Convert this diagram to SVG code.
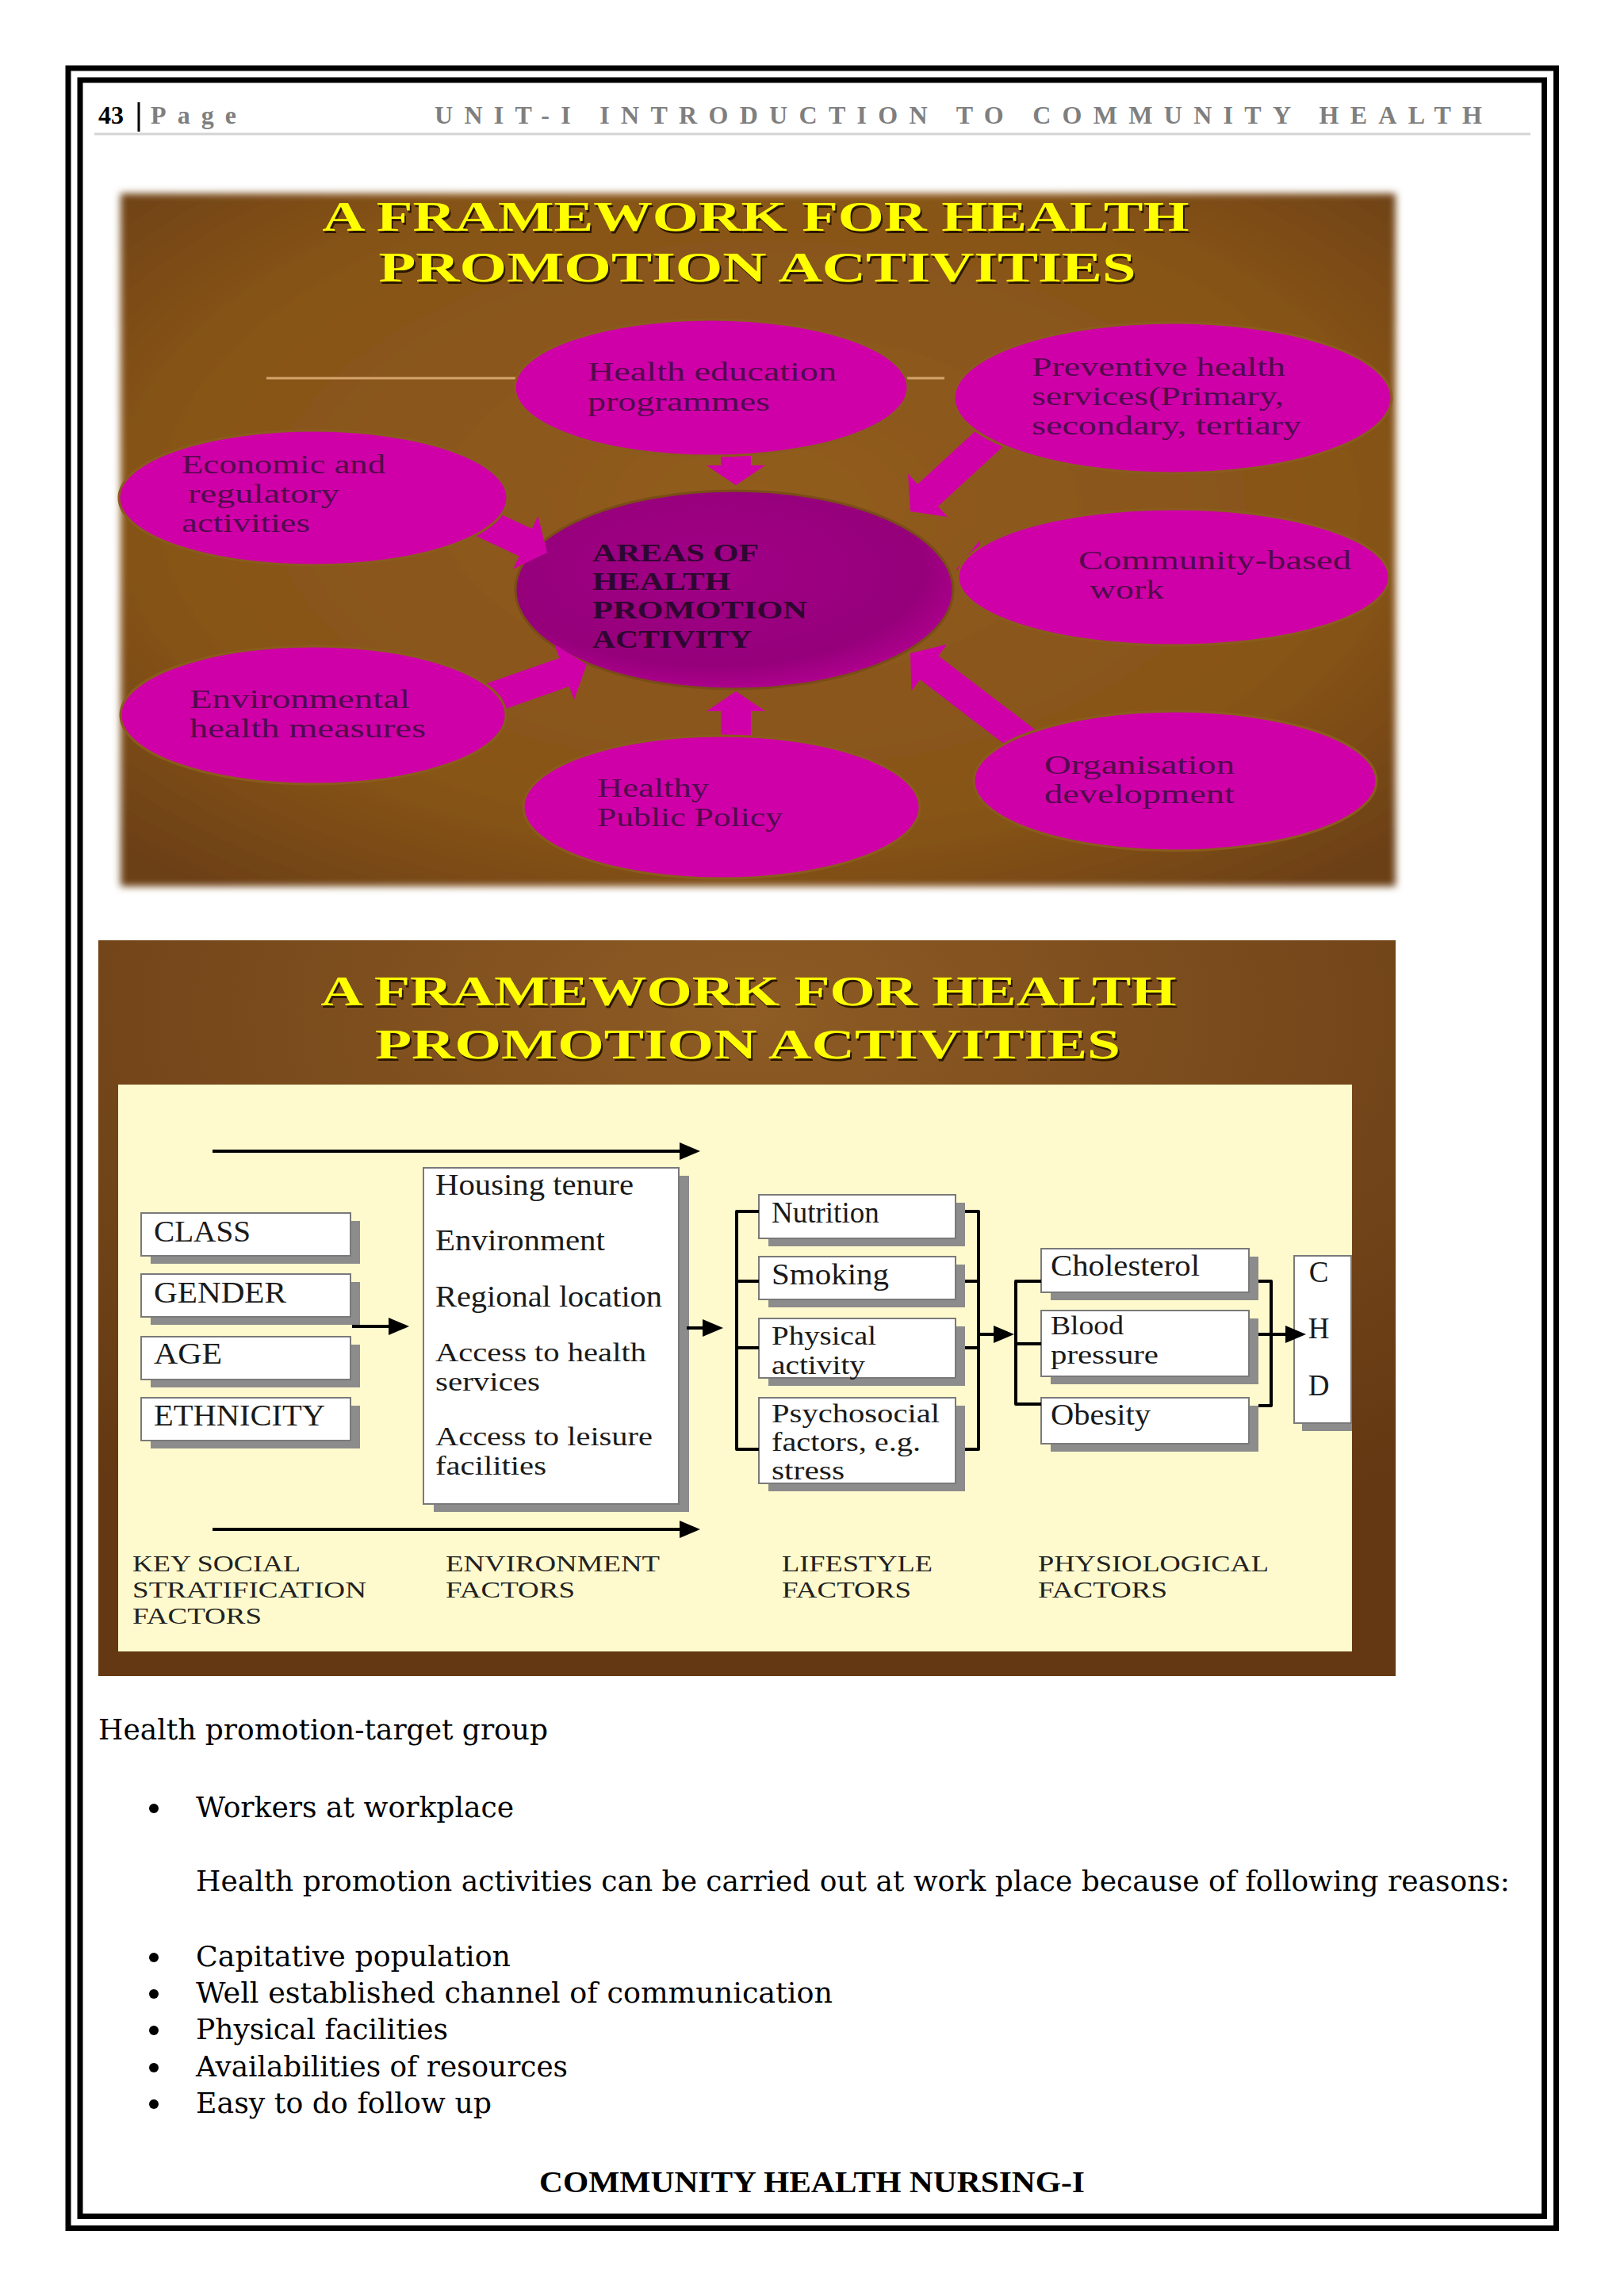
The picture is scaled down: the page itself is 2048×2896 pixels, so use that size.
<svg xmlns="http://www.w3.org/2000/svg" width="2048" height="2896" viewBox="0 0 2048 2896">
<style>
.hdr{font-family:"Liberation Serif",serif;font-weight:bold;font-size:32px}
.gray{fill:#7f7f7f}
.t1{font-family:"Liberation Serif",serif;font-weight:bold;fill:#ffff00;font-size:53px}
.t1s{font-family:"Liberation Serif",serif;font-weight:bold;fill:#2a1800;font-size:53px}
.el{fill:#d000a8;stroke:#8a5c1c;stroke-width:3}
.etx{font-family:"Liberation Serif",serif;font-size:34px;fill:#520a4e}
.ctx{font-family:"Liberation Serif",serif;font-weight:bold;font-size:31px;fill:#2e0630}
.barrow{fill:#d000a8}
.box{fill:#ffffff;stroke:#7a7a7a;stroke-width:2}
.shd{fill:#8c8c8c}
.btx{font-family:"Liberation Serif",serif;font-size:37px;fill:#1a1a1a}
.btm{font-family:"Liberation Serif",serif;font-size:33px;fill:#1a1a1a}
.lbl{font-family:"Liberation Serif",serif;font-size:29px;fill:#222}
.ln{fill:none;stroke:#000;stroke-width:4;stroke-linejoin:round}
.body{font-family:"DejaVu Serif",serif;font-size:35px;fill:#000}
.bul{fill:#000}
</style>
<defs>
<radialGradient id="brown1" cx="0.5" cy="0.45" r="0.7">
<stop offset="0" stop-color="#915c1e"/>
<stop offset="0.7" stop-color="#865318"/>
<stop offset="1" stop-color="#6c4012"/>
</radialGradient>
<radialGradient id="brown2" cx="0.5" cy="0.1" r="0.8">
<stop offset="0" stop-color="#8e5c24"/>
<stop offset="0.6" stop-color="#74461a"/>
<stop offset="1" stop-color="#633812"/>
</radialGradient>
<radialGradient id="ctr" cx="0.45" cy="0.4" r="0.6">
<stop offset="0" stop-color="#a10086"/>
<stop offset="0.8" stop-color="#95007a"/>
<stop offset="1" stop-color="#ad008d"/>
</radialGradient>
<filter id="soft" x="-5%" y="-5%" width="110%" height="110%">
<feGaussianBlur stdDeviation="5"/>
</filter>
<path id="barL" d="M0,0 L-30,-37 L-30,-19 L-300,-19 L-300,19 L-30,19 L-30,37 Z"/>
<path id="barS" d="M0,0 L-25,-37 L-25,-19 L-110,-19 L-110,19 L-25,19 L-25,37 Z"/>
<marker id="ah" markerWidth="26" markerHeight="22" refX="18" refY="11" orient="auto" markerUnits="userSpaceOnUse">
<path d="M0,0 L26,11 L0,22 Z" fill="#000"/>
</marker>
</defs>

<rect x="0" y="0" width="2048" height="2896" fill="#ffffff"/>

<g id="page-border">
<rect x="86" y="86" width="1876.5" height="2724.5" fill="none" stroke="#000" stroke-width="7"/>
<rect x="101" y="101" width="1846.5" height="2694.5" fill="none" stroke="#000" stroke-width="7"/>
</g>

<g id="header">
<text x="124" y="156" class="hdr" fill="#000" font-size="34">43</text>
<line x1="175" y1="129" x2="175" y2="166" stroke="#000" stroke-width="3"/>
<text x="190" y="156" class="hdr gray" textLength="108" lengthAdjust="spacing">Page</text>
<text x="548" y="156" class="hdr gray" textLength="1321" lengthAdjust="spacing">UNIT-I INTRODUCTION TO COMMUNITY HEALTH</text>
<line x1="119" y1="169" x2="1930" y2="169" stroke="#d4d4d4" stroke-width="3"/>
</g>

<!-- Slide 1 -->
<g id="slide1">
<rect x="152" y="244" width="1608" height="874" fill="url(#brown1)" filter="url(#soft)"/>
<line x1="336" y1="477" x2="1191" y2="477" stroke="#d4a46c" stroke-width="3"/>
<text x="955" y="294" class="t1s" text-anchor="middle" textLength="1093" lengthAdjust="spacingAndGlyphs">A FRAMEWORK FOR HEALTH</text>
<text x="953" y="291" class="t1" text-anchor="middle" textLength="1093" lengthAdjust="spacingAndGlyphs">A FRAMEWORK FOR HEALTH</text>
<text x="957" y="358" class="t1s" text-anchor="middle" textLength="955" lengthAdjust="spacingAndGlyphs">PROMOTION ACTIVITIES</text>
<text x="955" y="355" class="t1" text-anchor="middle" textLength="955" lengthAdjust="spacingAndGlyphs">PROMOTION ACTIVITIES</text>
</g>

<g id="center-areas">
<ellipse cx="926" cy="744" rx="276" ry="125" fill="url(#ctr)" stroke="#7a4c18" stroke-width="3"/>
<text x="747" y="708" class="ctx" textLength="210" lengthAdjust="spacingAndGlyphs">AREAS OF</text>
<text x="747" y="744" class="ctx" textLength="174" lengthAdjust="spacingAndGlyphs">HEALTH</text>
<text x="747" y="780" class="ctx" textLength="271" lengthAdjust="spacingAndGlyphs">PROMOTION</text>
<text x="747" y="817" class="ctx" textLength="201" lengthAdjust="spacingAndGlyphs">ACTIVITY</text>
</g>

<g id="connectors-slide1">
<use href="#barS" class="barrow" transform="translate(928,612) rotate(90)"/>
<use href="#barS" class="barrow" transform="translate(928,872) rotate(-90)"/>
<use href="#barL" class="barrow" transform="translate(1148,645) rotate(137.4)"/>
<use href="#barL" class="barrow" transform="translate(690,697) rotate(25)"/>
<use href="#barL" class="barrow" transform="translate(1206,718) rotate(180)"/>
<use href="#barL" class="barrow" transform="translate(740,838) rotate(-19.3)"/>
<use href="#barL" class="barrow" transform="translate(1148,824) rotate(-142.6)"/>
</g>

<g id="n-health-education">
<ellipse cx="897" cy="489" rx="248" ry="86" class="el"/>
<text x="741" y="480" class="etx" textLength="314" lengthAdjust="spacingAndGlyphs">Health education</text>
<text x="741" y="518" class="etx" textLength="230" lengthAdjust="spacingAndGlyphs">programmes</text>
</g>
<g id="n-preventive">
<ellipse cx="1479" cy="502" rx="276" ry="95" class="el"/>
<text x="1301" y="474" class="etx" textLength="320" lengthAdjust="spacingAndGlyphs">Preventive health</text>
<text x="1301" y="511" class="etx" textLength="318" lengthAdjust="spacingAndGlyphs">services(Primary,</text>
<text x="1301" y="548" class="etx" textLength="340" lengthAdjust="spacingAndGlyphs">secondary, tertiary</text>
</g>
<g id="n-economic">
<ellipse cx="395" cy="628" rx="245" ry="85" class="el"/>
<text x="229" y="597" class="etx" textLength="257" lengthAdjust="spacingAndGlyphs">Economic and</text>
<text x="237" y="634" class="etx" textLength="191" lengthAdjust="spacingAndGlyphs">regulatory</text>
<text x="229" y="671" class="etx" textLength="162" lengthAdjust="spacingAndGlyphs">activities</text>
</g>
<g id="n-community">
<ellipse cx="1480" cy="728" rx="272" ry="86" class="el"/>
<text x="1360" y="718" class="etx" textLength="344" lengthAdjust="spacingAndGlyphs">Community-based</text>
<text x="1374" y="755" class="etx" textLength="94" lengthAdjust="spacingAndGlyphs">work</text>
</g>
<g id="n-environmental">
<ellipse cx="395" cy="902" rx="243" ry="87" class="el"/>
<text x="239" y="893" class="etx" textLength="278" lengthAdjust="spacingAndGlyphs">Environmental</text>
<text x="239" y="930" class="etx" textLength="298" lengthAdjust="spacingAndGlyphs">health measures</text>
</g>
<g id="n-healthy-public-policy">
<ellipse cx="910" cy="1018" rx="250" ry="90" class="el"/>
<text x="753" y="1005" class="etx" textLength="141" lengthAdjust="spacingAndGlyphs">Healthy</text>
<text x="753" y="1042" class="etx" textLength="234" lengthAdjust="spacingAndGlyphs">Public Policy</text>
</g>
<g id="n-organisation">
<ellipse cx="1482" cy="985" rx="254" ry="88" class="el"/>
<text x="1317" y="976" class="etx" textLength="240" lengthAdjust="spacingAndGlyphs">Organisation</text>
<text x="1317" y="1013" class="etx" textLength="240" lengthAdjust="spacingAndGlyphs">development</text>
</g>

<!-- Slide 2 -->
<g id="slide2">
<rect x="124" y="1186" width="1636" height="928" fill="url(#brown2)"/>
<rect x="149" y="1368" width="1556" height="715" fill="#fffacd"/>
<text x="946" y="1271" class="t1s" text-anchor="middle" textLength="1079" lengthAdjust="spacingAndGlyphs">A FRAMEWORK FOR HEALTH</text>
<text x="944" y="1268" class="t1" text-anchor="middle" textLength="1079" lengthAdjust="spacingAndGlyphs">A FRAMEWORK FOR HEALTH</text>
<text x="945" y="1338" class="t1s" text-anchor="middle" textLength="940" lengthAdjust="spacingAndGlyphs">PROMOTION ACTIVITIES</text>
<text x="943" y="1335" class="t1" text-anchor="middle" textLength="940" lengthAdjust="spacingAndGlyphs">PROMOTION ACTIVITIES</text>
</g>

<g id="n-class"><rect x="190" y="1540" width="264" height="54" class="shd"/><rect x="178" y="1530" width="264" height="54" class="box"/><text x="194" y="1566" class="btx" textLength="122" lengthAdjust="spacingAndGlyphs">CLASS</text></g>
<g id="n-gender"><rect x="190" y="1617" width="264" height="54" class="shd"/><rect x="178" y="1607" width="264" height="54" class="box"/><text x="194" y="1643" class="btx" textLength="167" lengthAdjust="spacingAndGlyphs">GENDER</text></g>
<g id="n-age"><rect x="190" y="1696" width="264" height="54" class="shd"/><rect x="178" y="1686" width="264" height="54" class="box"/><text x="194" y="1720" class="btx" textLength="86" lengthAdjust="spacingAndGlyphs">AGE</text></g>
<g id="n-ethnicity"><rect x="190" y="1773" width="264" height="54" class="shd"/><rect x="178" y="1763" width="264" height="54" class="box"/><text x="194" y="1798" class="btx" textLength="216" lengthAdjust="spacingAndGlyphs">ETHNICITY</text></g>

<g id="n-environment-factors">
<rect x="547" y="1483" width="322" height="424" class="shd"/>
<rect x="534" y="1473" width="322" height="424" class="box"/>
<text x="549" y="1507" class="btx" textLength="250" lengthAdjust="spacingAndGlyphs">Housing tenure</text>
<text x="549" y="1577" class="btx" textLength="214" lengthAdjust="spacingAndGlyphs">Environment</text>
<text x="549" y="1648" class="btx" textLength="286" lengthAdjust="spacingAndGlyphs">Regional location</text>
<text x="549" y="1717" class="btm" textLength="266" lengthAdjust="spacingAndGlyphs">Access to health</text>
<text x="549" y="1754" class="btm" textLength="132" lengthAdjust="spacingAndGlyphs">services</text>
<text x="549" y="1823" class="btm" textLength="274" lengthAdjust="spacingAndGlyphs">Access to leisure</text>
<text x="549" y="1860" class="btm" textLength="140" lengthAdjust="spacingAndGlyphs">facilities</text>
</g>

<g id="n-nutrition"><rect x="969" y="1517" width="248" height="55" class="shd"/><rect x="957" y="1507" width="248" height="55" class="box"/><text x="973" y="1542" class="btx">Nutrition</text></g>
<g id="n-smoking"><rect x="969" y="1595" width="248" height="54" class="shd"/><rect x="957" y="1585" width="248" height="54" class="box"/><text x="973" y="1620" class="btx" textLength="148" lengthAdjust="spacingAndGlyphs">Smoking</text></g>
<g id="n-physical"><rect x="969" y="1673" width="248" height="75" class="shd"/><rect x="957" y="1663" width="248" height="75" class="box"/><text x="973" y="1696" class="btm" textLength="132" lengthAdjust="spacingAndGlyphs">Physical</text><text x="973" y="1733" class="btm" textLength="118" lengthAdjust="spacingAndGlyphs">activity</text></g>
<g id="n-psychosocial"><rect x="969" y="1773" width="248" height="108" class="shd"/><rect x="957" y="1763" width="248" height="108" class="box"/><text x="973" y="1794" class="btm" textLength="212" lengthAdjust="spacingAndGlyphs">Psychosocial</text><text x="973" y="1830" class="btm" textLength="188" lengthAdjust="spacingAndGlyphs">factors, e.g.</text><text x="973" y="1866" class="btm" textLength="92" lengthAdjust="spacingAndGlyphs">stress</text></g>

<g id="n-cholesterol"><rect x="1325" y="1585" width="262" height="55" class="shd"/><rect x="1313" y="1575" width="262" height="55" class="box"/><text x="1325" y="1609" class="btx" textLength="188" lengthAdjust="spacingAndGlyphs">Cholesterol</text></g>
<g id="n-blood-pressure"><rect x="1325" y="1663" width="262" height="83" class="shd"/><rect x="1313" y="1653" width="262" height="83" class="box"/><text x="1325" y="1683" class="btm" textLength="92" lengthAdjust="spacingAndGlyphs">Blood</text><text x="1325" y="1720" class="btm" textLength="136" lengthAdjust="spacingAndGlyphs">pressure</text></g>
<g id="n-obesity"><rect x="1325" y="1773" width="262" height="58" class="shd"/><rect x="1313" y="1763" width="262" height="58" class="box"/><text x="1325" y="1797" class="btx" textLength="126" lengthAdjust="spacingAndGlyphs">Obesity</text></g>

<g id="n-chd">
<rect x="1642" y="1594" width="63" height="211" class="shd"/>
<rect x="1632" y="1584" width="72" height="211" class="box"/>
<text x="1663" y="1617" class="btx" font-size="28" text-anchor="middle">C</text>
<text x="1663" y="1688" class="btx" font-size="28" text-anchor="middle">H</text>
<text x="1663" y="1760" class="btx" font-size="28" text-anchor="middle">D</text>
</g>

<g id="connectors-slide2">
<line x1="268" y1="1452" x2="875" y2="1452" class="ln" marker-end="url(#ah)"/>
<line x1="268" y1="1929" x2="875" y2="1929" class="ln" marker-end="url(#ah)"/>
<line x1="444" y1="1673" x2="508" y2="1673" class="ln" marker-end="url(#ah)"/>
<line x1="866" y1="1675" x2="904" y2="1675" class="ln" marker-end="url(#ah)"/>
<path d="M957,1528 H929 V1828 H957 M929,1616 H957 M929,1700 H957" class="ln"/>
<path d="M1217,1528 H1234 V1828 H1217 M1217,1616 H1234 M1217,1700 H1234" class="ln"/>
<line x1="1234" y1="1683" x2="1271" y2="1683" class="ln" marker-end="url(#ah)"/>
<path d="M1313,1616 H1281 V1771 H1313 M1281,1695 H1313" class="ln"/>
<path d="M1587,1616 H1603 V1773 H1587" class="ln"/>
<line x1="1587" y1="1683" x2="1639" y2="1683" class="ln" marker-end="url(#ah)"/>
</g>

<g id="stage-labels">
<text x="167" y="1982" class="lbl" textLength="212" lengthAdjust="spacingAndGlyphs">KEY SOCIAL</text>
<text x="167" y="2015" class="lbl" textLength="295" lengthAdjust="spacingAndGlyphs">STRATIFICATION</text>
<text x="167" y="2048" class="lbl" textLength="163" lengthAdjust="spacingAndGlyphs">FACTORS</text>
<text x="562" y="1982" class="lbl" textLength="270" lengthAdjust="spacingAndGlyphs">ENVIRONMENT</text>
<text x="562" y="2015" class="lbl" textLength="163" lengthAdjust="spacingAndGlyphs">FACTORS</text>
<text x="986" y="1982" class="lbl" textLength="190" lengthAdjust="spacingAndGlyphs">LIFESTYLE</text>
<text x="986" y="2015" class="lbl" textLength="163" lengthAdjust="spacingAndGlyphs">FACTORS</text>
<text x="1309" y="1982" class="lbl" textLength="291" lengthAdjust="spacingAndGlyphs">PHYSIOLOGICAL</text>
<text x="1309" y="2015" class="lbl" textLength="163" lengthAdjust="spacingAndGlyphs">FACTORS</text>
</g>

<g id="body-text">
<text x="124" y="2194" class="body" textLength="567" lengthAdjust="spacingAndGlyphs">Health promotion-target group</text>
<circle cx="194" cy="2281" r="6" class="bul"/>
<text x="247" y="2292" class="body" textLength="401" lengthAdjust="spacingAndGlyphs">Workers at workplace</text>
<text x="247" y="2385" class="body" textLength="1657" lengthAdjust="spacingAndGlyphs">Health promotion activities can be carried out at work place because of following reasons:</text>
<circle cx="194" cy="2469" r="6" class="bul"/>
<text x="247" y="2480" class="body" textLength="397" lengthAdjust="spacingAndGlyphs">Capitative population</text>
<circle cx="194" cy="2515" r="6" class="bul"/>
<text x="247" y="2526" class="body" textLength="803" lengthAdjust="spacingAndGlyphs">Well established channel of communication</text>
<circle cx="194" cy="2561" r="6" class="bul"/>
<text x="247" y="2572" class="body" textLength="318" lengthAdjust="spacingAndGlyphs">Physical facilities</text>
<circle cx="194" cy="2608" r="6" class="bul"/>
<text x="247" y="2619" class="body" textLength="469" lengthAdjust="spacingAndGlyphs">Availabilities of resources</text>
<circle cx="194" cy="2654" r="6" class="bul"/>
<text x="247" y="2665" class="body" textLength="373" lengthAdjust="spacingAndGlyphs">Easy to do follow up</text>
</g>

<g id="footer">
<text x="1024" y="2765" font-family="Liberation Serif, serif" font-weight="bold" font-size="38" text-anchor="middle" textLength="688" lengthAdjust="spacingAndGlyphs">COMMUNITY HEALTH NURSING-I</text>
</g>
</svg>
